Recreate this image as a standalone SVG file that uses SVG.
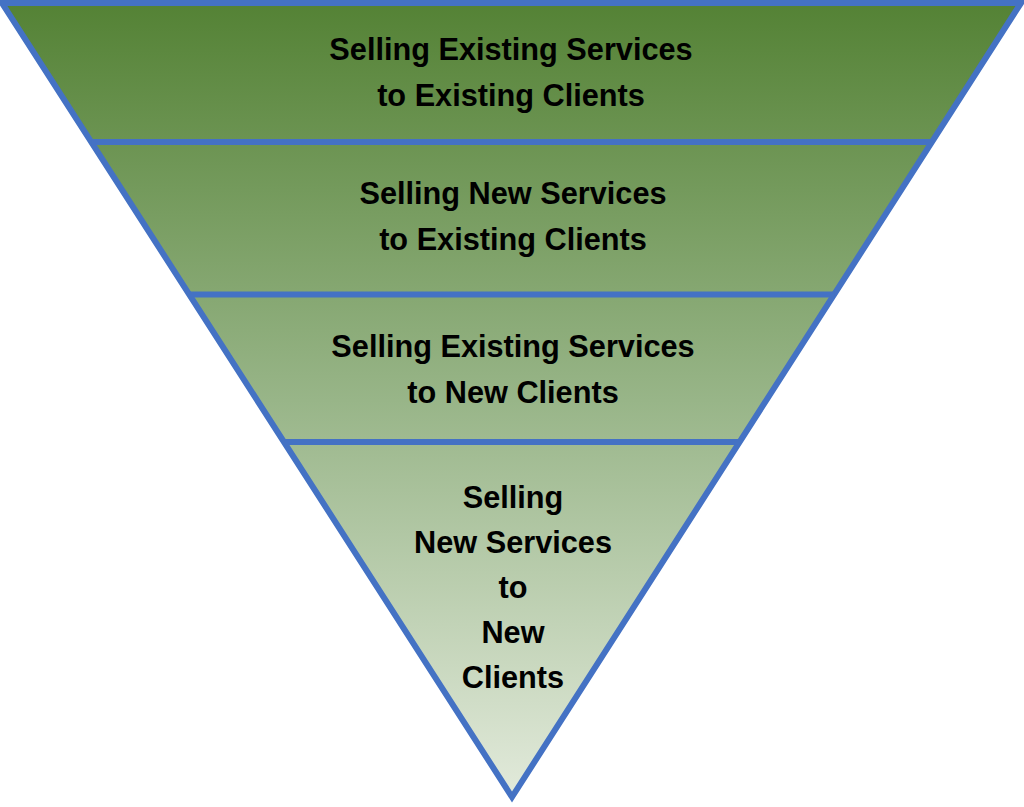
<svg xmlns="http://www.w3.org/2000/svg" width="1024" height="807" viewBox="0 0 1024 807">
  <defs>
    <linearGradient id="g" gradientUnits="userSpaceOnUse" x1="0" y1="3" x2="0" y2="797">
      <stop offset="0" stop-color="#548235"/>
      <stop offset="0.5" stop-color="#98b588"/>
      <stop offset="1" stop-color="#e2eadb"/>
    </linearGradient>
  </defs>
  <style>
    .band { fill: url(#g); stroke: none; }
    .lbl { font-family: "Liberation Sans", Arial, sans-serif; font-weight: bold; font-size: 30.7px; fill: #000; text-anchor: middle; }
    .edge { fill: none; stroke: #4472C4; stroke-width: 6; stroke-linejoin: miter; stroke-miterlimit: 10; }
  </style>
  <rect width="1024" height="807" fill="#ffffff"/>
  <g id="band1">
    <polygon class="band" points="2,3 1021,3 931.9,142 91.3,142"/>
    <text class="lbl" x="511" y="60">Selling Existing Services</text>
    <text class="lbl" x="511" y="106">to Existing Clients</text>
  </g>
  <g id="band2">
    <polygon class="band" points="91.3,142 931.9,142 834.1,294.5 189.2,294.5"/>
    <text class="lbl" x="513" y="204">Selling New Services</text>
    <text class="lbl" x="513" y="250">to Existing Clients</text>
  </g>
  <g id="band3">
    <polygon class="band" points="189.2,294.5 834.1,294.5 739.6,442 284,442"/>
    <text class="lbl" x="513" y="357">Selling Existing Services</text>
    <text class="lbl" x="513" y="403">to New Clients</text>
  </g>
  <g id="band4">
    <polygon class="band" points="284,442 739.6,442 512,797"/>
    <text class="lbl" x="513" y="508">Selling</text>
    <text class="lbl" x="513" y="553">New Services</text>
    <text class="lbl" x="513" y="598">to</text>
    <text class="lbl" x="513" y="643">New</text>
    <text class="lbl" x="513" y="688">Clients</text>
  </g>
  <g id="connectors">
    <polygon class="edge" points="2,3 1021,3 512,797"/>
    <line class="edge" x1="91.3" y1="142" x2="931.9" y2="142"/>
    <line class="edge" x1="189.2" y1="294.5" x2="834.1" y2="294.5"/>
    <line class="edge" x1="284" y1="442" x2="739.6" y2="442"/>
  </g>
</svg>
